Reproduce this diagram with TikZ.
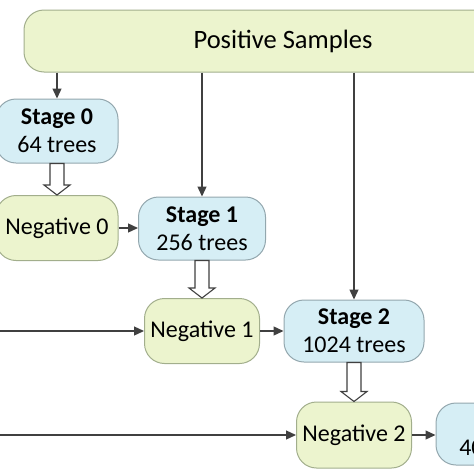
\documentclass[tikz,border=0pt]{standalone}
\usepackage{fontspec}
\setmainfont{Carlito}
\usetikzlibrary{arrows.meta,calc}
\definecolor{gfill}{HTML}{ECF4CE}
\definecolor{gline}{HTML}{A2AE8C}
\definecolor{bfill}{HTML}{D6EEF5}
\definecolor{bline}{HTML}{93A7AE}
\definecolor{dark}{HTML}{404040}
\tikzset{
  box/.style={rectangle, rounded corners=20pt, line width=1pt, inner sep=0pt, align=center,
    font=\fontsize{24}{28}\selectfont, text=black},
  gbox/.style={box, fill=gfill, draw=gline},
  bbox/.style={box, fill=bfill, draw=bline},
  arr/.style={draw=dark, line width=1.3pt, -{Triangle[length=10pt,width=9pt]}},
  plain/.style={draw=dark, line width=1.3pt},
  harrow/.style={draw=dark, line width=1.1pt, fill=white, line join=miter}
}
\newcommand\harrow[2]{%
  \draw[harrow] ($(#1.south)+(-7,0)$) -- ($(#2.north)+(-7,-10)$) -- ($(#2.north)+(-13,-10)$) --
  (#2.north) -- ($(#2.north)+(13,-10)$) -- ($(#2.north)+(7,-10)$) -- ($(#1.south)+(7,0)$) -- cycle;}
\begin{document}
\begin{tikzpicture}[x=1pt,y=-1pt]
\useasboundingbox (0,0) rectangle (474,474);
\clip (0,0) rectangle (474,474);
\node[gbox, minimum width=518pt, minimum height=62pt, font=\fontsize{26.5}{30}\selectfont] (ps) at (283,41) {Positive Samples};
\node[bbox, minimum width=122pt, minimum height=64pt] (s0) at (57,131) {\textbf{Stage 0}\\64 trees};
\node[gbox, minimum width=122pt, minimum height=65pt] (n0) at (57,228) {Negative 0};
\node[bbox, minimum width=127pt, minimum height=63pt] (s1) at (202,228.5) {\textbf{Stage 1}\\256 trees};
\node[gbox, minimum width=115pt, minimum height=65pt] (n1) at (202,331) {Negative 1};
\node[bbox, minimum width=140pt, minimum height=62pt] (s2) at (354,331) {\textbf{Stage 2}\\1024 trees};
\node[gbox, minimum width=115pt, minimum height=66pt] (n2) at (354,435) {Negative 2};
\node[bbox, minimum width=150pt, minimum height=62pt] (s3) at (511,434) {\textbf{Stage 3}\\4096 trees};
\coordinate (left) at (0,0);
% positive sample feeds
\draw[arr] (s0.north |- ps.south) -- (s0.north);
\draw[arr] (s1.north |- ps.south) -- (s1.north);
\draw[arr] (s2.north |- ps.south) -- (s2.north);
% hollow arrows
\harrow{s0}{n0}
\harrow{s1}{n1}
\harrow{s2}{n2}
% negative to stage
\draw[arr] (n0.east) -- (n0.east -| s1.west);
\draw[arr] (n1.east) -- (n1.east -| s2.west);
\draw[arr] (n2.east) -- (n2.east -| s3.west);
% from left edge
\draw[arr] (left |- n1.west) -- (n1.west);
\draw[arr] (left |- n2.west) -- (n2.west);
\end{tikzpicture}
\end{document}
